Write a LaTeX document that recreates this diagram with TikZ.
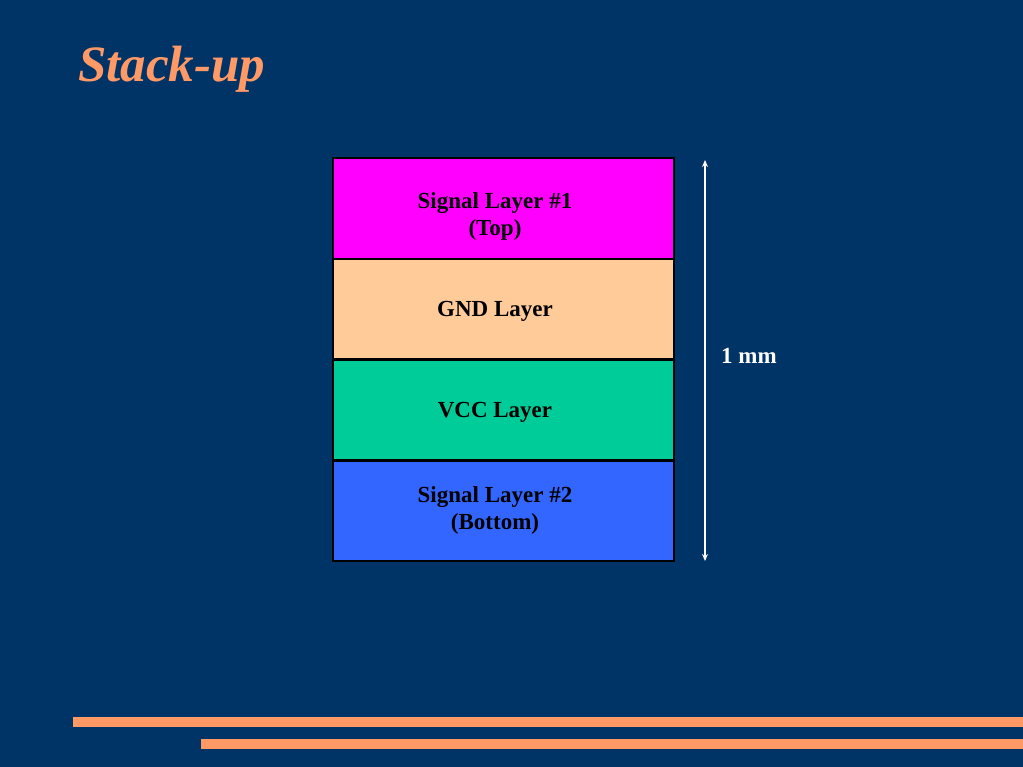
\documentclass[tikz,border=0pt]{standalone}
\usepackage{fontspec}
\setmainfont{Liberation Serif}
\usetikzlibrary{arrows.meta}
\definecolor{bg}{RGB}{0,51,102}
\definecolor{salmon}{RGB}{255,153,102}
\definecolor{lmag}{RGB}{255,0,255}
\definecolor{lpeach}{RGB}{255,204,153}
\definecolor{lgreen}{RGB}{0,204,153}
\definecolor{lblue}{RGB}{51,102,255}
\tikzset{
  layerbox/.style={draw=black, line width=2.5pt, minimum width=341pt, minimum height=100.75pt, inner sep=0pt},
  layertext/.style={inner sep=0pt, align=center, font=\fontsize{23}{27}\selectfont\bfseries, text=black},
  bar/.style={fill=salmon, draw=none},
}
\begin{document}
\begin{tikzpicture}[x=1pt,y=-1pt]
\useasboundingbox (0,0) rectangle (1023,767);
\fill[bg] (0,0) rectangle (1023,767);
\node[anchor=base west, text=salmon, font=\fontsize{51}{60}\selectfont\bfseries\itshape, inner sep=0pt] (title) at (78,82) {Stack-up};
\node[layerbox, fill=lmag] (l1) at (503.5,208.5) {};
\node[layerbox, fill=lpeach] (l2) at (503.5,309.25) {};
\node[layerbox, fill=lgreen] (l3) at (503.5,410) {};
\node[layerbox, fill=lblue] (l4) at (503.5,510.75) {};
\node[layertext] (t1) at (495,216) {Signal Layer \#1\\(Top)};
\node[layertext] (t2) at (495,311) {GND Layer};
\node[layertext] (t3) at (495,412) {VCC Layer};
\node[layertext] (t4) at (495,510.5) {Signal Layer \#2\\(Bottom)};
\coordinate (atop) at (705,160);
\coordinate (abot) at (705,561);
\draw[white, line width=1.2pt, {Stealth[length=7pt,width=6pt]}-{Stealth[length=7pt,width=6pt]}] (atop) -- (abot);
\node[text=white, font=\fontsize{23}{27}\selectfont\bfseries, inner sep=0pt] (dim) at (749,356) {1 mm};
\path[bar] (73,717) rectangle (1023,727);
\path[bar] (201,739) rectangle (1023,749);
\end{tikzpicture}
\end{document}
